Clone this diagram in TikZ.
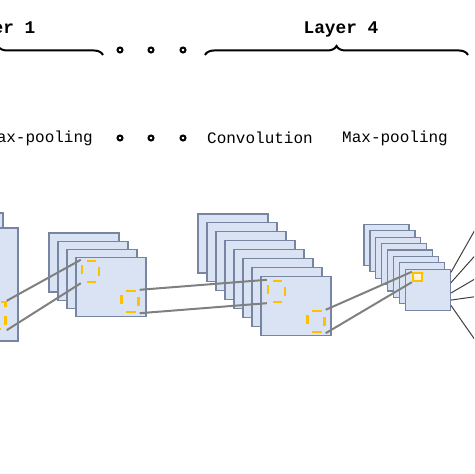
\documentclass[tikz,border=0pt]{standalone}
\usepackage{fontspec}
\newfontfamily\codefont{Liberation Mono}
\usetikzlibrary{decorations.pathreplacing}
\definecolor{mapfill}{RGB}{218,227,243}
\definecolor{mapline}{RGB}{118,134,162}
\definecolor{kernyellow}{RGB}{255,192,0}
\definecolor{linkgray}{RGB}{128,128,128}

\begin{document}
\begin{tikzpicture}[x=0.5pt, y=-0.5pt,
  fmap/.style={draw=mapline, fill=mapfill, line width=0.6pt, inner sep=0},
  bigmap/.style={fmap, minimum width=56.5pt, minimum height=56.5pt},
  midmap/.style={fmap, minimum width=35pt, minimum height=29.5pt},
  smallmap/.style={fmap, minimum width=22.5pt, minimum height=20.5pt},
  kern/.style={draw=kernyellow, line width=1.2pt, inner sep=0,
    minimum width=8.5pt, minimum height=10.5pt,
    dash pattern=on 4.8pt off 4.2pt, dash phase=6.6pt},
  unit/.style={draw=kernyellow, fill=kernyellow!15, line width=1.2pt, inner sep=0,
    minimum width=4.5pt, minimum height=4pt},
  link/.style={draw=linkgray, line width=1pt},
  fan/.style={draw=black!75, line width=0.5pt},
  dotc/.style={circle, draw, line width=1pt, minimum size=2.5pt, inner sep=0},
  brace/.style={decorate, decoration={brace, amplitude=4.5pt}, line width=1pt},
  stage/.style={font=\codefont\fontsize{8}{10}\selectfont},
  layerlab/.style={font=\codefont\bfseries\fontsize{8.9}{11}\selectfont}]
\useasboundingbox (0,0) rectangle (474,474);
\clip (0,0) rectangle (474,474);
% Headers
\coordinate (b1l) at (-107,55);
\coordinate (b1r) at (103,55);
\coordinate (b4l) at (205,55);
\coordinate (b4r) at (468,55);
\draw[brace] (b1l) -- (b1r);
\draw[brace] (b4l) -- (b4r);
\node[layerlab] (lay1) at (-2,29) {Layer 1};
\node[layerlab] (lay4) at (341,29) {Layer 4};
\foreach \x [count=\n] in {120,151,183} {
  \node[dotc] (top\n) at (\x,50) {};
  \node[dotc] (mid\n) at (\x,138) {};
}
\node[stage] (pool1lab) at (40,138) {Max-pooling};
\node[stage] (conv4lab) at (260,138) {Convolution};
\node[stage] (pool4lab) at (395,138) {Max-pooling};
% Feature maps
\node[bigmap] (in-0) at (-53.5,269.5) {};
\node[bigmap] (in-1) at (-38.5,284.5) {};
\foreach \i in {0,...,3}
  \node[midmap] (poolA-\i) at ({84+9*\i},{262.5+8.2*\i}) {};
\foreach \i in {0,...,7}
  \node[midmap] (convB-\i) at ({233+9*\i},{243.5+8.9*\i}) {};
\foreach \i in {0,...,7}
  \node[smallmap] (poolB-\i) at ({386.5+5.9*\i},{245+6.4*\i}) {};
% Receptive fields
\node[kern, minimum width=9.5pt, minimum height=13.5pt] (k1) at (-4,315.5) {};
\node[kern] (k2) at (90.5,271.5) {};
\node[kern] (k3) at (130,301.5) {};
\node[kern] (k4) at (276.5,291.5) {};
\node[kern] (k5) at (316,321.5) {};
\node[unit] (k6) at (417.5,277) {};
\draw[link] (k1.north east) -- (k2.north west);
\draw[link] (k1.south east) -- (k2.south west);
\draw[link] (k3.north east) -- (k4.north west);
\draw[link] (k3.south east) -- (k4.south west);
\draw[link] (k5.north east) -- (k6.north west);
\draw[link] (k5.south east) -- (k6.south west);
% Fully connected
\coordinate (o1) at (480,221);
\coordinate (o2) at (480,250);
\coordinate (o3) at (480,276);
\coordinate (o4) at (480,296);
\coordinate (o5) at (480,347);
\draw[fan] (poolB-7.37) -- (o1);
\draw[fan] (poolB-7.17) -- (o2);
\draw[fan] (poolB-7.-8) -- (o3);
\draw[fan] (poolB-7.-24) -- (o4);
\draw[fan] (poolB-7.-34) -- (o5);
\end{tikzpicture}
\end{document}
